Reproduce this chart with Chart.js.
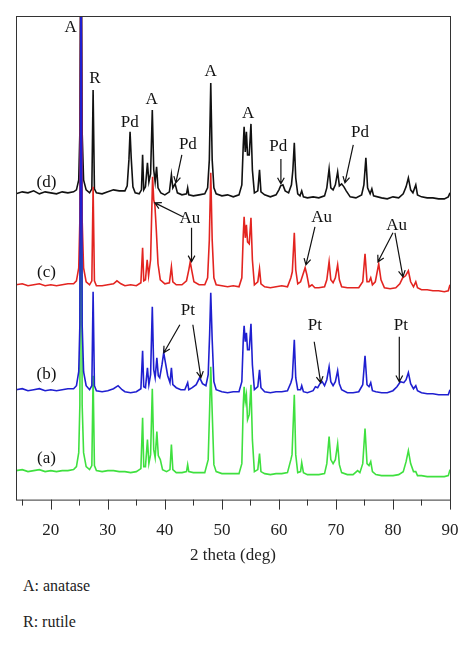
<!DOCTYPE html>
<html>
<head>
<meta charset="utf-8">
<script src="https://cdn.jsdelivr.net/npm/chart.js@4/dist/chart.umd.min.js"></script>
<style>
  body { margin: 0; background: #fff; }
  #wrap { position: absolute; left: 0; top: 0; width: 474px; height: 575px; }
  .note { position: absolute; left: 23px; font: 16px "Liberation Serif", serif; color: #222; line-height: 20px; }
</style>
</head>
<body>
<div id="wrap"><canvas id="xrd" width="474" height="575"></canvas></div>
<div class="note" style="top:576px">A: anatase</div>
<div class="note" style="top:612px">R: rutile</div>
<script>
// 2 theta (deg) / intensity (a.u., patterns stacked with offsets)
const patternA = [
  [13.9,29],[15,30],[16,28],[17,29],[18,30],[19,28],[20,29],[21,28],[22,29],[23,29],[24,30],[24.5,33],[24.9,47],[25.1,95],[25.3,600],[25.5,95],[25.75,47],[26.2,33],[26.8,30],[27.2,34],[27.42,124],[27.65,34],[28,29],[29,28],[30,29],[31,29],[32,28],[33,28],[34,27],[35,28],[35.8,31],[36.1,82],[36.3,33],[36.6,33],[36.95,60],[37.2,36],[37.5,45],[37.8,111],[38.05,50],[38.3,42],[38.6,68],[38.85,44],[39.2,40],[39.6,30],[40.3,28],[40.9,30],[41.15,55],[41.4,30],[42,27],[43,27],[43.8,28],[44.0,35],[44.2,28],[45,27],[46,27],[47,27],[47.6,40],[47.85,90],[48.05,133],[48.3,88],[48.6,35],[49,28],[50,26],[51,26],[52,26],[53,26],[53.5,36],[53.75,95],[53.9,113],[54.1,98],[54.3,105],[54.5,80],[54.8,85],[55.1,115],[55.35,60],[55.7,28],[56.3,30],[56.6,46],[56.85,28],[57.5,26],[58.5,25],[59.5,26],[60.5,26],[61.5,27],[62.1,40],[62.3,45],[62.7,105],[62.95,45],[63.3,27],[63.8,28],[64,37],[64.3,27],[65,25],[66,25],[67,25],[68,26],[68.4,36],[68.8,63],[69.1,40],[69.5,36],[69.9,40],[70.3,56],[70.6,35],[71,27],[72,25],[73,25],[73.8,29],[74.2,27],[74.7,36],[75.1,71],[75.45,36],[75.8,34],[76.1,38],[76.4,28],[77,25],[78,24],[79,24],[80,24],[81,25],[81.8,28],[82.3,38],[82.7,49],[83.1,36],[83.6,28],[84,28],[84.3,24],[85,24],[86,23],[87,23],[88,23],[89,23],[89.7,24],[90,30]
];
const patternB = [
  [13.9,110],[15,111],[16,109],[17,110],[18,111],[19,109],[20,110],[21,109],[22,110],[23,111],[24,111],[24.5,114],[24.9,128],[25.1,175],[25.3,600],[25.5,175],[25.75,128],[26.2,114],[26.8,110],[27.2,114],[27.42,208],[27.65,114],[28,109],[29,108],[30,109],[31,111],[31.8,114],[32.5,110],[33,108],[34,107],[35,108],[35.8,111],[36.1,149],[36.3,113],[36.6,112],[36.95,132],[37.2,115],[37.5,125],[37.8,193],[38.05,130],[38.3,122],[38.6,142],[38.85,124],[39.1,122],[39.5,135],[39.8,147],[40.1,137],[40.5,124],[40.9,117],[41.15,132],[41.4,115],[42,112],[42.8,110],[43.5,110],[44.0,117],[44.2,110],[44.8,112],[45.5,115],[46.1,122],[46.6,116],[47.2,114],[47.6,125],[47.85,165],[48.05,207],[48.3,160],[48.6,118],[49,110],[50,108],[51,107],[52,108],[53,108],[53.5,118],[53.75,160],[53.9,174],[54.1,158],[54.3,167],[54.5,150],[54.8,150],[55.1,176],[55.35,135],[55.7,110],[56.3,113],[56.6,130],[56.85,112],[57.5,108],[58.5,107],[59.5,108],[60.5,108],[61.5,109],[62.1,117],[62.35,122],[62.7,160],[62.95,122],[63.3,110],[63.8,110],[64,114],[64.3,108],[65,107],[66,109],[66.4,113],[66.8,112],[67.2,116],[67.6,118],[68,114],[68.4,120],[68.8,133],[69.1,118],[69.5,114],[69.9,118],[70.3,129],[70.6,116],[71,110],[72,107],[73,107],[74,108],[74.7,115],[75.1,144],[75.45,115],[75.8,113],[76.1,117],[76.4,109],[77,108],[78,107],[79,107],[80,109],[80.7,113],[81.3,118],[81.9,117],[82.3,120],[82.7,127],[83.1,116],[83.6,111],[84,114],[84.3,109],[85,107],[86,106],[87,106],[88,105],[89,105],[89.7,105],[90,110]
];
const patternC = [
  [13.9,215],[15,216],[16,214],[17,215],[18,216],[19,214],[20,215],[21,214],[22,215],[23,216],[24,216],[24.5,219],[24.9,232],[25.1,280],[25.3,600],[25.5,280],[25.75,232],[26.2,218],[26.8,215],[27.2,219],[27.42,313],[27.65,219],[28,214],[29,214],[30,215],[31,216],[31.6,219],[32.3,216],[33,214],[34,215],[35,214],[35.8,217],[36.1,252],[36.3,219],[36.6,220],[36.9,240],[37.15,224],[37.5,240],[37.85,323],[38.05,300],[38.25,295],[38.5,270],[38.8,236],[39.2,220],[40,216],[40.8,217],[41.15,233],[41.4,218],[42,215],[43,215],[43.8,219],[44.2,230],[44.45,238],[44.7,230],[45.1,218],[46,215],[47,215],[47.5,222],[47.8,260],[48.05,327],[48.3,260],[48.6,222],[49,215],[50,214],[51,213],[52,214],[53,213],[53.5,222],[53.75,265],[53.9,283],[54.1,262],[54.3,275],[54.5,258],[54.8,256],[55.1,282],[55.35,240],[55.7,215],[56.3,218],[56.6,231],[56.85,216],[57.5,213],[58.5,212],[59.5,213],[60.5,214],[61.5,213],[62.1,222],[62.35,228],[62.7,267],[62.95,230],[63.3,216],[63.8,218],[64.2,225],[64.6,232],[64.9,225],[65.3,213],[65.8,215],[66.3,212],[67,212],[68,213],[68.4,220],[68.8,238],[69.1,220],[69.5,217],[69.9,222],[70.3,235],[70.6,220],[71,213],[72,212],[73,212],[74,212],[74.7,218],[75.1,246],[75.45,218],[75.8,218],[76.1,222],[76.4,215],[76.9,218],[77.5,236],[77.9,220],[78.5,212],[79.5,211],[80.5,212],[81.2,216],[81.7,222],[82.2,224],[82.7,229],[83.1,218],[83.6,213],[84,218],[84.3,212],[85,210],[86,210],[87,209],[88,209],[89,208],[89.7,209],[90,215]
];
const patternD = [
  [13.9,306],[15,308],[16,307],[17,309],[18,306],[19,308],[20,307],[21,306],[22,308],[23,307],[24,308],[24.5,310],[24.9,320],[25.1,368],[25.3,600],[25.5,368],[25.75,320],[26.2,310],[26.8,307],[27.2,311],[27.42,410],[27.65,311],[28,307],[29,306],[30,308],[31,310],[32,309],[33,309],[33.4,314],[33.7,340],[33.9,368],[34.1,342],[34.4,313],[34.8,307],[35.5,306],[35.9,310],[36.1,345],[36.3,310],[36.6,313],[36.95,337],[37.2,318],[37.5,326],[37.8,390],[38.05,330],[38.3,318],[38.55,333],[38.8,312],[39.3,307],[40,305],[40.8,308],[41.15,325],[41.4,312],[41.8,316],[42.2,307],[43,305],[43.8,306],[44.0,312],[44.2,305],[45,304],[46,305],[47,306],[47.5,312],[47.8,340],[48.05,417],[48.3,340],[48.6,312],[49,306],[50,304],[51,305],[52,303],[53,305],[53.5,315],[53.75,355],[53.9,373],[54.1,348],[54.3,368],[54.5,345],[54.8,345],[55.1,376],[55.35,330],[55.7,307],[56.3,309],[56.6,330],[56.85,308],[57.5,305],[58.5,303],[59.5,305],[60,310],[60.3,314],[60.7,315],[61.1,309],[61.7,307],[62.2,315],[62.45,330],[62.7,357],[62.95,322],[63.3,306],[63.7,304],[64,309],[64.3,303],[65,302],[66,303],[67,302],[68,304],[68.4,312],[68.8,331],[69.1,312],[69.5,310],[69.9,315],[70.3,328],[70.6,314],[71,316],[71.4,313],[71.8,309],[72.5,303],[73.5,302],[74.5,305],[74.9,315],[75.25,342],[75.55,312],[76,306],[76.3,311],[76.6,304],[78,302],[79,301],[80,303],[81,302],[81.8,306],[82.3,313],[82.7,322],[83.1,310],[83.5,307],[84,315],[84.3,305],[85,303],[86,302],[87,302],[88,301],[89,301],[89.7,303],[90,307]
];
const tickLabels = [20, 30, 40, 50, 60, 70, 80, 90];
const minorTicks = [15, 25, 35, 45, 55, 65, 75, 85];

const SERIF = '"Liberation Serif", "DejaVu Serif", serif';

// peak labels and arrows, in data coordinates
const labels = [
  ["A", 23.46, 472], ["R", 27.72, 421], ["Pd", 33.86, 377], ["A", 37.67, 400],
  ["Pd", 44.04, 355], ["A", 48.02, 428], ["A", 54.61, 386], ["Pd", 59.88, 353],
  ["Pd", 74.21, 367], ["Au", 44.39, 281], ["Au", 67.49, 282], ["Au", 80.65, 274],
  ["Pt", 44.04, 189], ["Pt", 66.32, 174], ["Pt", 81.4, 174],
  ["(d)", 19.25, 317], ["(c)", 19.25, 227], ["(b)", 19.25, 125], ["(a)", 19.25, 41]
];
const arrows = [
  [42.98, 345, 41.93, 317], [43.16, 283, 38.25, 297], [44.68, 272, 44.68, 238],
  [60.35, 341, 60.35, 316], [73.04, 355, 71.58, 317], [66.32, 273, 64.74, 235],
  [80.0, 267, 77.37, 238], [80.35, 267, 81.75, 223], [42.63, 175, 39.82, 147],
  [44.91, 175, 46.32, 122], [66.19, 158, 67.32, 117], [81.11, 163, 81.11, 118]
];

const toXY = (arr) => arr.map((p) => ({ x: p[0], y: p[1] }));

const decor = {
  id: "decor",
  afterDatasetsDraw(chart) {
    const ctx = chart.ctx;
    const xs = chart.scales.x, ys = chart.scales.y;
    const a = chart.chartArea;
    ctx.save();
    // frame
    ctx.strokeStyle = "#333";
    ctx.lineWidth = 1;
    ctx.strokeRect(a.left + 0.5, a.top + 0.5, a.right - a.left, a.bottom - a.top);
    // ticks below the axis
    ctx.beginPath();
    tickLabels.forEach((v) => {
      const px = Math.round(xs.getPixelForValue(v)) + 0.5;
      ctx.moveTo(px, a.bottom); ctx.lineTo(px, a.bottom + 10);
    });
    minorTicks.forEach((v) => {
      const px = Math.round(xs.getPixelForValue(v)) + 0.5;
      ctx.moveTo(px, a.bottom); ctx.lineTo(px, a.bottom + 6);
    });
    ctx.stroke();
    // tick labels
    ctx.fillStyle = "#222";
    ctx.font = "17px " + SERIF;
    ctx.textAlign = "center";
    ctx.textBaseline = "middle";
    tickLabels.forEach((v) => {
      ctx.fillText(String(v), xs.getPixelForValue(v), a.bottom + 31);
    });
    // arrows
    ctx.strokeStyle = "#111";
    ctx.lineWidth = 1.2;
    arrows.forEach((ar) => {
      const x1 = xs.getPixelForValue(ar[0]), y1 = ys.getPixelForValue(ar[1]);
      const x2 = xs.getPixelForValue(ar[2]), y2 = ys.getPixelForValue(ar[3]);
      const ang = Math.atan2(y2 - y1, x2 - x1);
      ctx.beginPath();
      ctx.moveTo(x1, y1); ctx.lineTo(x2, y2);
      ctx.moveTo(x2 - 7 * Math.cos(ang - 0.5), y2 - 7 * Math.sin(ang - 0.5));
      ctx.lineTo(x2, y2);
      ctx.lineTo(x2 - 7 * Math.cos(ang + 0.5), y2 - 7 * Math.sin(ang + 0.5));
      ctx.stroke();
    });
    // peak labels
    ctx.fillStyle = "#111";
    ctx.font = "17px " + SERIF;
    labels.forEach((l) => {
      ctx.fillText(l[0], xs.getPixelForValue(l[1]), ys.getPixelForValue(l[2]));
    });
    ctx.restore();
  },
};

new Chart(document.getElementById("xrd"), {
  type: "line",
  data: {
    datasets: [
      { label: "(b)", data: toXY(patternB), borderColor: "#1f1fd0", order: 0 },
      { label: "(c)", data: toXY(patternC), borderColor: "#e32420", order: 1 },
      { label: "(d)", data: toXY(patternD), borderColor: "#111111", order: 2 },
      { label: "(a)", data: toXY(patternA), borderColor: "#3fe03f", order: 3 },
    ],
  },
  options: {
    responsive: false,
    animation: false,
    devicePixelRatio: 1,
    layout: { padding: { left: 16, right: 24, top: 16, bottom: 9 } },
    elements: {
      line: { borderWidth: 1.6, tension: 0 },
      point: { radius: 0 },
    },
    plugins: { legend: { display: false }, tooltip: { enabled: false } },
    scales: {
      x: {
        type: "linear",
        min: 13.9,
        max: 90,
        grid: { display: false, drawTicks: false },
        border: { display: false },
        afterBuildTicks: (scale) => {
          scale.ticks = tickLabels.map((v) => ({ value: v }));
        },
        ticks: { display: false },
        title: {
          display: true,
          text: "2 theta (deg)",
          color: "#222",
          padding: { top: 46, bottom: 0 },
          font: { family: SERIF, size: 17 },
        },
      },
      y: { display: false, min: 0, max: 484 },
    },
  },
  plugins: [decor],
});
</script>
</body>
</html>
